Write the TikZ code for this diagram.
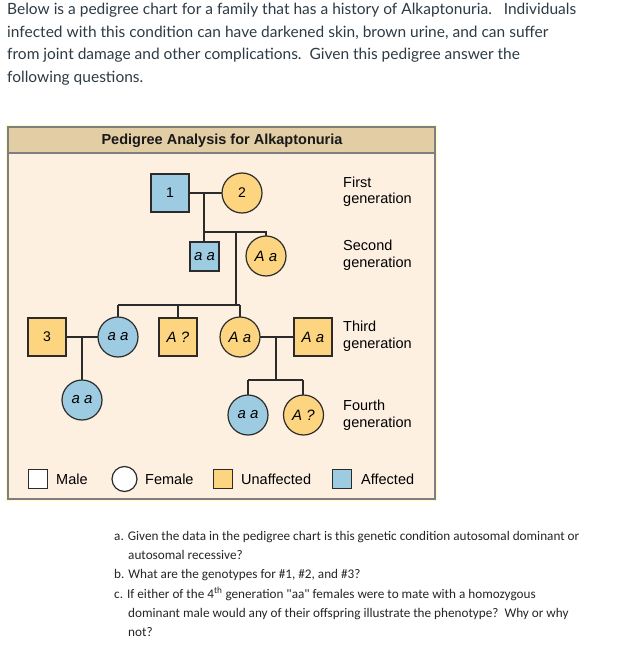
\documentclass[tikz,border=0pt]{standalone}
\usepackage{fontspec}
\setmainfont{Lato}
\newfontfamily\arialf{Liberation Sans}
\newfontfamily\calib{Carlito}
\definecolor{affc}{HTML}{9DCBE2}
\definecolor{unaffc}{HTML}{FDD47F}
\definecolor{bgc}{HTML}{FEF0E1}
\definecolor{titc}{HTML}{E2CDA4}
\definecolor{framec}{HTML}{7F7F7F}
\definecolor{linec}{HTML}{2B2B2B}
\definecolor{txtc}{HTML}{2D3B45}
\begin{document}
\begin{tikzpicture}[x=1pt,y=-1pt,
  conn/.style={draw=linec,line width=1.3pt},
  msq/.style={rectangle,draw=linec,line width=1.2pt,minimum size=38pt,inner sep=0pt,font=\arialf\fontsize{14}{14}\selectfont},
  ssq/.style={rectangle,draw=linec,line width=1.2pt,minimum size=29pt,inner sep=0pt,font=\arialf\itshape\fontsize{15}{15}\selectfont},
  fem/.style={circle,draw=linec,line width=1.2pt,minimum size=40pt,inner sep=0pt,font=\arialf\fontsize{14}{14}\selectfont},
  geno/.style={font=\arialf\itshape\fontsize{15}{15}\selectfont},
  aff/.style={fill=affc},
  unaff/.style={fill=unaffc},
  genlab/.style={anchor=west,align=left,inner sep=0pt,font=\arialf\fontsize{14.5}{16.5}\selectfont},
  leglab/.style={anchor=west,inner sep=0pt,font=\arialf\fontsize{14.5}{16.5}\selectfont},
  toptxt/.style={anchor=base west,inner sep=0pt,text=txtc,font=\fontsize{15.5}{18}\selectfont},
  qtxt/.style={anchor=base west,inner sep=0pt,text=black!85,font=\calib\fontsize{13.2}{15}\selectfont}]
\useasboundingbox (0,0) rectangle (619,647);
\fill[white] (0,0) rectangle (619,647);
% top text
\node[toptxt] (t1) at (7,15) {Below is a pedigree chart for a family that has a history of Alkaptonuria.\ \ \ Individuals};
\node[toptxt] (t2) at (7,37.5) {infected with this condition can have darkened skin, brown urine, and can suffer};
\node[toptxt] (t3) at (7,60) {from joint damage and other complications.\ \ Given this pedigree answer the};
\node[toptxt] (t4) at (7,82.5) {following questions.};
% frame
\draw[draw=yellow!25,line width=4pt] (8,127) rectangle (435,499);
\fill[bgc] (8,127) rectangle (435,499);
\fill[titc] (8,127) rectangle (435,153);
\draw[framec,line width=1.3pt] (8,153) -- (435,153);
\draw[framec,line width=2pt] (8,127) rectangle (435,499);
\node[font=\arialf\bfseries\fontsize{14.5}{16}\selectfont,text=black!90] (title) at (222,141) {Pedigree Analysis for Alkaptonuria};
% coordinates
\coordinate (m1) at (204,193);
\coordinate (s2a) at (204,232);
\coordinate (s2b) at (266,232);
\coordinate (s2c) at (236,232);
\coordinate (s3c) at (236,305);
\coordinate (s3a) at (118,305);
\coordinate (s3b) at (178,305);
\coordinate (s3d) at (240,305);
\coordinate (m3) at (82,337);
\coordinate (m4) at (276,337);
\coordinate (s4m) at (276,380);
\coordinate (s4a) at (248,380);
\coordinate (s4b) at (303,380);
% connectors
\draw[conn] (170,193) -- (242,193);
\draw[conn] (m1) -- (s2a) -- (s2b) -- (266,240);
\draw[conn] (s2a) -- (204,245);
\draw[conn] (s2c) -- (s3c);
\draw[conn] (s3a) -- (s3d);
\draw[conn] (s3a) -- (118,320);
\draw[conn] (s3b) -- (178,320);
\draw[conn] (s3d) -- (240,320);
\draw[conn] (47,337) -- (118,337);
\draw[conn] (m3) -- (82,382);
\draw[conn] (240,337) -- (313,337);
\draw[conn] (m4) -- (s4m);
\draw[conn] (s4a) -- (s4b);
\draw[conn] (s4a) -- (248,398);
\draw[conn] (s4b) -- (303,398);
% first generation
\node[msq,aff] (p1) at (170,193) {1};
\node[fem,unaff] (p2) at (242,193) {2};
% second generation
\node[ssq,aff] (g2m) at (204.5,256.5) {a a};
\node[fem,unaff,geno] (g2f) at (266,256) {A a};
% third generation
\node[msq,unaff] (p3) at (47,337) {3};
\node[fem,aff,geno] (g3a) at (118,337) {a a};
\node[msq,unaff,geno] (g3b) at (178,337) {A ?};
\node[fem,unaff,geno] (g3c) at (240,337) {A a};
\node[msq,unaff,geno] (g3d) at (313,337) {A a};
% fourth generation
\node[fem,aff,geno] (g4a) at (82,400) {a a};
\node[fem,aff,geno] (g4b) at (248,415) {a a};
\node[fem,unaff,geno] (g4c) at (303.5,415) {A ?};
% generation labels
\node[genlab] (l1) at (343,192) {First\\generation};
\node[genlab] (l2) at (343,255) {Second\\generation};
\node[genlab] (l3) at (343,336) {Third\\generation};
\node[genlab] (l4) at (343,415) {Fourth\\generation};
% legend
\node[rectangle,draw=linec,line width=1.2pt,fill=white,minimum size=19pt,inner sep=0pt] (lm) at (38,479) {};
\node[leglab] (lmt) at (56,479) {Male};
\node[circle,draw=linec,line width=1.2pt,fill=white,minimum size=25pt,inner sep=0pt] (lf) at (124.5,479) {};
\node[leglab] (lft) at (145,479) {Female};
\node[rectangle,draw=linec,line width=1.2pt,unaff,minimum size=19pt,inner sep=0pt] (lu) at (223,479) {};
\node[leglab] (lut) at (241,479) {Unaffected};
\node[rectangle,draw=linec,line width=1.2pt,aff,minimum size=19pt,inner sep=0pt] (la) at (342,479) {};
\node[leglab] (lat) at (361,479) {Affected};
% questions
\node[qtxt] (q1) at (114,540) {a. Given the data in the pedigree chart is this genetic condition autosomal dominant or};
\node[qtxt] (q1b) at (128,559) {autosomal recessive?};
\node[qtxt] (q2) at (114,578) {b. What are the genotypes for \#1, \#2, and \#3?};
\node[qtxt] (q3) at (114,598) {c. If either of the 4\textsuperscript{th} generation "aa" females were to mate with a homozygous};
\node[qtxt] (q3b) at (128,617) {dominant male would any of their offspring illustrate the phenotype?\ \ Why or why};
\node[qtxt] (q3c) at (128,636) {not?};
\end{tikzpicture}
\end{document}
